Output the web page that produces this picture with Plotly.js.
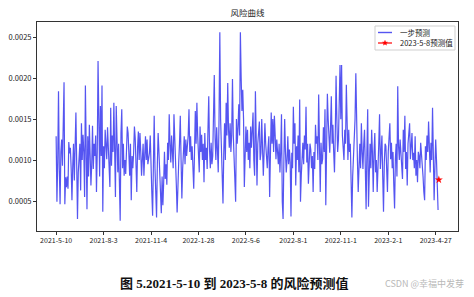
<!DOCTYPE html>
<html>
<head>
<meta charset="utf-8">
<script src="https://cdn.plot.ly/plotly-3.0.1.min.js"></script>
<style>html,body{margin:0;padding:0;background:#fff;}#chart{width:474px;height:297px;}</style>
</head>
<body>
<div id="chart"></div>
<script>
// 一步预测 risk values (one per trading day, 2021-5-10 ... 2023-5-5)
var risk = [
0.00129,0.00049,0.00097,0.00184,0.00090,0.00046,0.00110,0.00125,0.00093,0.00140,
0.00195,0.00046,0.00079,0.00067,0.00080,0.00065,0.00122,0.00108,0.00115,0.00090,
0.00051,0.00093,0.00120,0.00075,0.00110,0.00158,0.00095,0.00028,0.00085,0.00101,
0.00120,0.00063,0.00145,0.00100,0.00131,0.00110,0.00055,0.00191,0.00105,0.00040,
0.00129,0.00080,0.00143,0.00112,0.00069,0.00095,0.00142,0.00089,0.00120,0.00105,
0.00130,0.00061,0.00110,0.00221,0.00119,0.00080,0.00166,0.00105,0.00191,0.00037,
0.00117,0.00090,0.00137,0.00110,0.00101,0.00140,0.00121,0.00095,0.00067,0.00164,
0.00093,0.00130,0.00110,0.00170,0.00120,0.00055,0.00166,0.00100,0.00085,0.00120,
0.00070,0.00026,0.00133,0.00162,0.00090,0.00120,0.00081,0.00100,0.00083,0.00110,
0.00141,0.00133,0.00095,0.00081,0.00120,0.00051,0.00105,0.00090,0.00109,0.00141,
0.00127,0.00095,0.00061,0.00115,0.00135,0.00100,0.00133,0.00110,0.00081,0.00101,
0.00120,0.00081,0.00105,0.00129,0.00100,0.00125,0.00095,0.00105,0.00109,0.00130,
0.00081,0.00060,0.00032,0.00100,0.00154,0.00090,0.00061,0.00030,0.00095,0.00133,
0.00110,0.00089,0.00065,0.00035,0.00080,0.00045,0.00073,0.00110,0.00077,0.00095,
0.00070,0.00121,0.00100,0.00156,0.00120,0.00097,0.00130,0.00113,0.00090,0.00156,
0.00115,0.00093,0.00070,0.00036,0.00085,0.00097,0.00120,0.00154,0.00100,0.00053,
0.00090,0.00110,0.00129,0.00095,0.00125,0.00105,0.00117,0.00130,0.00162,0.00110,
0.00129,0.00100,0.00117,0.00090,0.00065,0.00110,0.00160,0.00120,0.00170,0.00130,
0.00105,0.00085,0.00141,0.00110,0.00131,0.00100,0.00120,0.00073,0.00133,0.00100,
0.00115,0.00089,0.00137,0.00178,0.00113,0.00090,0.00121,0.00095,0.00105,0.00140,
0.00204,0.00127,0.00100,0.00140,0.00110,0.00085,0.00150,0.00256,0.00150,0.00120,
0.00090,0.00047,0.00110,0.00145,0.00100,0.00170,0.00130,0.00194,0.00137,0.00115,
0.00145,0.00110,0.00131,0.00199,0.00131,0.00100,0.00080,0.00049,0.00150,0.00120,
0.00140,0.00168,0.00130,0.00256,0.00200,0.00160,0.00186,0.00150,0.00067,0.00120,
0.00141,0.00110,0.00137,0.00100,0.00121,0.00090,0.00141,0.00115,0.00130,0.00158,
0.00100,0.00081,0.00184,0.00110,0.00069,0.00120,0.00133,0.00147,0.00100,0.00109,
0.00150,0.00120,0.00081,0.00110,0.00145,0.00120,0.00101,0.00090,0.00115,0.00129,
0.00055,0.00110,0.00158,0.00120,0.00150,0.00110,0.00154,0.00130,0.00101,0.00125,
0.00109,0.00095,0.00120,0.00085,0.00110,0.00156,0.00049,0.00028,0.00100,0.00150,
0.00110,0.00085,0.00100,0.00129,0.00095,0.00113,0.00097,0.00031,0.00109,0.00090,
0.00165,0.00120,0.00145,0.00069,0.00117,0.00100,0.00130,0.00085,0.00174,0.00049,
0.00081,0.00110,0.00121,0.00095,0.00130,0.00113,0.00165,0.00097,0.00120,0.00071,
0.00093,0.00120,0.00113,0.00090,0.00105,0.00061,0.00110,0.00089,0.00143,0.00120,
0.00129,0.00100,0.00180,0.00120,0.00061,0.00121,0.00095,0.00101,0.00140,0.00110,
0.00162,0.00045,0.00120,0.00181,0.00150,0.00120,0.00109,0.00140,0.00178,0.00120,
0.00143,0.00110,0.00085,0.00130,0.00203,0.00150,0.00110,0.00125,0.00160,0.00216,
0.00150,0.00216,0.00130,0.00117,0.00100,0.00137,0.00120,0.00192,0.00121,0.00100,
0.00137,0.00110,0.00120,0.00085,0.00030,0.00080,0.00101,0.00120,0.00150,0.00206,
0.00117,0.00100,0.00061,0.00109,0.00120,0.00090,0.00145,0.00110,0.00089,0.00120,
0.00137,0.00090,0.00040,0.00110,0.00162,0.00043,0.00101,0.00120,0.00090,0.00137,
0.00109,0.00061,0.00110,0.00133,0.00085,0.00100,0.00061,0.00085,0.00120,0.00156,
0.00089,0.00110,0.00130,0.00080,0.00037,0.00097,0.00120,0.00117,0.00090,0.00061,
0.00110,0.00137,0.00145,0.00101,0.00121,0.00090,0.00110,0.00070,0.00041,0.00101,
0.00120,0.00080,0.00190,0.00117,0.00100,0.00125,0.00110,0.00090,0.00077,0.00137,
0.00110,0.00154,0.00089,0.00110,0.00069,0.00120,0.00141,0.00145,0.00101,0.00120,
0.00133,0.00100,0.00109,0.00090,0.00129,0.00081,0.00100,0.00073,0.00110,0.00105,
0.00090,0.00121,0.00110,0.00097,0.00080,0.00061,0.00051,0.00117,0.00100,0.00130,
0.00110,0.00147,0.00109,0.00085,0.00121,0.00100,0.00164,0.00085,0.00051,0.00090,
0.00125,0.00100,0.00060,0.00039
];
var predLabel = "2023-5-8";
var predValue = 0.00076;
var seriesNames = ["一步预测", predLabel + "预测值"];
var tickLabels = ["2021-5-10","2021-8-3","2021-11-4","2022-1-28","2022-5-6","2022-8-1","2022-11-1","2023-2-1","2023-4-27"];
var yTicks = [0.0005,0.0010,0.0015,0.0020,0.0025];

var xIdx = risk.map(function(_, i){ return i; });
var tickPos = tickLabels.map(function(_, i){ return i * 60; });
var predX = risk.length;

var W = 474, H = 297, M = {l: 37, r: 16, t: 22, b: 66};
var PW = W - M.l - M.r, PH = H - M.t - M.b;
function px(x){ return (x - M.l) / PW; }
function py(y){ return (H - M.b - y) / PH; }

var fontCJK = '"Noto Sans CJK SC", "DejaVu Sans", sans-serif';
var blue = 'rgba(20,20,235,0.72)';

var traces = [
  {x: xIdx, y: risk, type: 'scatter', mode: 'lines', name: seriesNames[0],
   line: {color: blue, width: 1.2}},
  {x: [predX], y: [predValue], type: 'scatter', mode: 'lines+markers', name: seriesNames[1],
   line: {color: 'red', width: 1.2},
   marker: {symbol: 'star', size: 6, color: 'red'}}
];

// compact matplotlib-like legend
function starPath(cx, cy, ro, ri){
  var d = '';
  for (var k = 0; k < 10; k++){
    var r = (k % 2 === 0) ? ro : ri;
    var a = -Math.PI / 2 + k * Math.PI / 5;
    var X = px(cx + r * Math.cos(a)), Y = py(cy + r * Math.sin(a));
    d += (k === 0 ? 'M' : 'L') + X + ',' + Y;
  }
  return d + 'Z';
}
var lg = {x0: 375, x1: 455, y0: 26, y1: 50, lineX0: 378, lineX1: 392, textX: 398, rows: [32.5, 43]};
var shapes = [
  {type: 'rect', xref: 'paper', yref: 'paper', x0: px(lg.x0), x1: px(lg.x1), y0: py(lg.y1), y1: py(lg.y0),
   fillcolor: 'rgba(255,255,255,0.85)', line: {color: '#cfcfcf', width: 1}, layer: 'above'},
  {type: 'line', xref: 'paper', yref: 'paper', x0: px(lg.lineX0), x1: px(lg.lineX1), y0: py(lg.rows[0]), y1: py(lg.rows[0]),
   line: {color: blue, width: 1.4}, layer: 'above'},
  {type: 'line', xref: 'paper', yref: 'paper', x0: px(lg.lineX0), x1: px(lg.lineX1), y0: py(lg.rows[1]), y1: py(lg.rows[1]),
   line: {color: 'red', width: 1.2}, layer: 'above'},
  {type: 'path', xref: 'paper', yref: 'paper', path: starPath((lg.lineX0 + lg.lineX1) / 2, lg.rows[1], 2.6, 1.1),
   fillcolor: 'red', line: {color: 'red', width: 0.5}, layer: 'above'}
];

var annotations = [
  {text: seriesNames[0], xref: 'paper', yref: 'paper', x: px(lg.textX), y: py(lg.rows[0]),
   xanchor: 'left', yanchor: 'middle', showarrow: false,
   font: {family: fontCJK, size: 7.5, color: '#222'}},
  {text: seriesNames[1], xref: 'paper', yref: 'paper', x: px(lg.textX), y: py(lg.rows[1]),
   xanchor: 'left', yanchor: 'middle', showarrow: false,
   font: {family: fontCJK, size: 7.5, color: '#222'}},
  {text: '<b>图 5.2021-5-10 到 2023-5-8 的风险预测值</b>', xref: 'paper', yref: 'paper',
   x: 0.468, y: -0.249, xanchor: 'center', yanchor: 'middle', showarrow: false,
   font: {family: '"Liberation Serif", "Noto Sans CJK SC", serif', size: 13, color: '#111'}},
  {text: 'CSDN @幸福中发芽', xref: 'paper', yref: 'paper',
   x: 1.02, y: -0.249, xanchor: 'right', yanchor: 'middle', showarrow: false,
   font: {family: fontCJK, size: 9, color: '#b8b8b8'}}
];

var layout = {
  width: W, height: H,
  margin: M,
  paper_bgcolor: '#fff', plot_bgcolor: '#fff',
  showlegend: false,
  title: {text: '风险曲线', font: {family: fontCJK, size: 8.5, color: '#222'},
          x: 0.522, xanchor: 'center', y: 0.955, yanchor: 'middle'},
  xaxis: {range: [-24.2, 508.2], tickmode: 'array', tickvals: tickPos, ticktext: tickLabels,
          showgrid: false, zeroline: false, showline: true, mirror: true,
          linecolor: '#333', linewidth: 1, ticks: 'outside', ticklen: 3, tickcolor: '#333',
          tickfont: {family: fontCJK, size: 7, color: '#222'}},
  yaxis: {range: [0.000134, 0.002686], tickmode: 'array', tickvals: yTicks, tickformat: '.4f',
          showgrid: false, zeroline: false, showline: true, mirror: true,
          linecolor: '#333', linewidth: 1, ticks: 'outside', ticklen: 3, tickcolor: '#333',
          tickfont: {family: fontCJK, size: 7.5, color: '#222'}},
  shapes: shapes,
  annotations: annotations
};

Plotly.newPlot('chart', traces, layout, {displayModeBar: false, staticPlot: true});
</script>
</body>
</html>
